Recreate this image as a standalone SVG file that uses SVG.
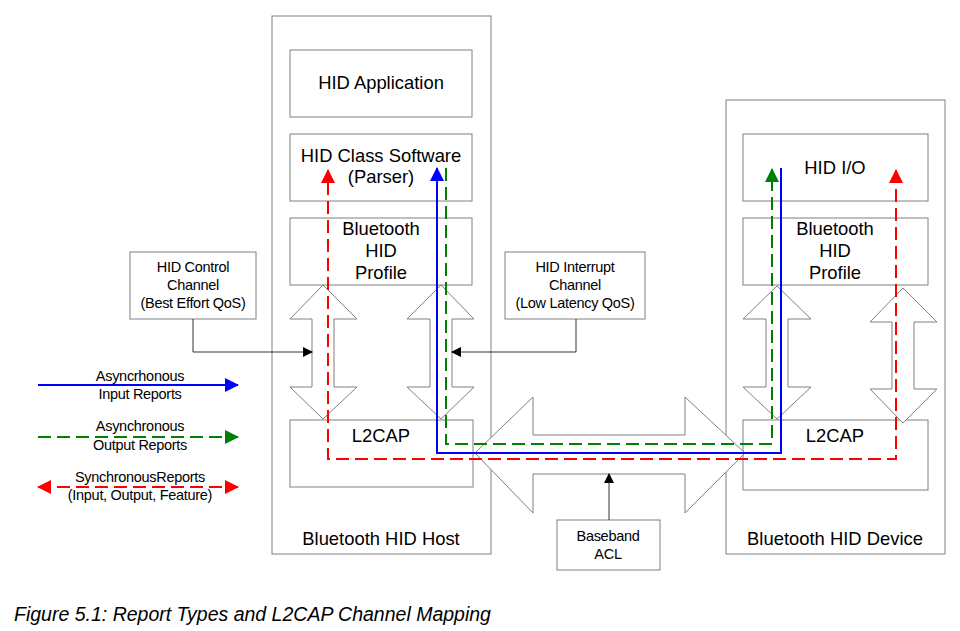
<svg xmlns="http://www.w3.org/2000/svg" width="960" height="631" viewBox="0 0 960 631">
<style>
.b{fill:#fff;stroke:#808080;stroke-width:1}
.t{font-family:"Liberation Sans",Arial,sans-serif;font-size:18.4px;fill:#000;text-anchor:middle}
.s{font-family:"Liberation Sans",Arial,sans-serif;font-size:14.5px;fill:#000;text-anchor:middle;letter-spacing:-0.3px}
.da{fill:#fff;stroke:#808080;stroke-width:1}
</style>
<defs>
<marker id="ab" markerWidth="10" markerHeight="10" refX="9" refY="5" orient="auto" markerUnits="userSpaceOnUse"><path d="M0,0L10,5L0,10z" fill="#000"/></marker>
<marker id="mb" markerWidth="14" markerHeight="14" refX="13" refY="7" orient="auto-start-reverse" markerUnits="userSpaceOnUse"><path d="M0,0L14,7L0,14z" fill="#0000ff"/></marker>
<marker id="mg" markerWidth="14" markerHeight="14" refX="13" refY="7" orient="auto-start-reverse" markerUnits="userSpaceOnUse"><path d="M0,0L14,7L0,14z" fill="#008000"/></marker>
<marker id="mr" markerWidth="14" markerHeight="14" refX="13" refY="7" orient="auto-start-reverse" markerUnits="userSpaceOnUse"><path d="M0,0L14,7L0,14z" fill="#ff0000"/></marker>
</defs>
<rect width="960" height="631" fill="#fff"/>
<g id="host"><rect class="b" x="272" y="16" width="219" height="538"/><text class="t" x="381" y="545">Bluetooth HID Host</text></g>
<g id="device"><rect class="b" x="726" y="100" width="219" height="454"/><text class="t" x="835" y="545">Bluetooth HID Device</text></g>
<g id="hidapp"><rect class="b" x="290" y="50" width="182" height="67"/><text class="t" x="381" y="89">HID Application</text></g>
<g id="hidclass"><rect class="b" x="290" y="134" width="182" height="67"/><text class="t" x="381" y="162">HID Class Software</text><text class="t" x="381" y="183">(Parser)</text></g>
<g id="hostprofile"><rect class="b" x="290" y="218" width="182" height="67"/><text class="t" x="381" y="235">Bluetooth</text><text class="t" x="381" y="257">HID</text><text class="t" x="381" y="279">Profile</text></g>
<g id="hostl2cap"><rect class="b" x="290" y="420" width="183" height="67"/><text class="t" x="381" y="442">L2CAP</text></g>
<g id="hidio"><rect class="b" x="743" y="134" width="185" height="67"/><text class="t" x="835" y="174">HID I/O</text></g>
<g id="devprofile"><rect class="b" x="743" y="218" width="185" height="67"/><text class="t" x="835" y="235">Bluetooth</text><text class="t" x="835" y="257">HID</text><text class="t" x="835" y="279">Profile</text></g>
<g id="devl2cap"><rect class="b" x="743" y="420" width="185" height="70"/><text class="t" x="835" y="442">L2CAP</text></g>
<g id="ctrl"><rect class="b" x="130" y="252" width="126" height="67"/><text class="s" x="193" y="272">HID Control</text><text class="s" x="193" y="290">Channel</text><text class="s" x="193" y="308">(Best Effort QoS)</text></g>
<g id="intr"><rect class="b" x="505" y="252" width="140" height="67"/><text class="s" x="575" y="272">HID Interrupt</text><text class="s" x="575" y="290">Channel</text><text class="s" x="575" y="308">(Low Latency QoS)</text></g>
<g id="baseband"><rect class="b" x="557" y="520" width="103" height="50"/><text class="s" x="608" y="541">Baseband</text><text class="s" x="608" y="559">ACL</text></g>
<g id="bigarrows">
<path class="da" d="M323,285L357,319L334,319L334,387L357,387L323,419L290,387L312,387L312,319L290,319Z"/>
<path class="da" d="M441,285L474,319L452,319L452,387L474,387L441,419L407,387L430,387L430,319L407,319Z"/>
<path class="da" d="M777,286L811,319L788,319L788,387L811,387L777,419L743,387L766,387L766,319L743,319Z"/>
<path class="da" d="M903,288L937,322L914,322L914,389L937,389L903,423L870,389L892,389L892,322L870,322Z"/>
<path class="da" d="M475,453L533,397L533,435L685,435L685,397L745,453L685,513L685,474L533,474L533,513Z"/>
</g>
<g id="connectors" fill="none">
<polyline points="193,319 193,352 312,352" stroke="#000" stroke-width="0.8" marker-end="url(#ab)"/>
<polyline points="576,319 576,352 452,352" stroke="#000" stroke-width="0.8" marker-end="url(#ab)"/>
<line x1="609" y1="520" x2="609" y2="474" stroke="#000" stroke-width="0.8" marker-end="url(#ab)"/>
<polyline points="896,170 896,459 328,459 328,170" stroke="#ff0000" stroke-width="2" stroke-dasharray="13,6" marker-end="url(#mr)" marker-start="url(#mr)"/>
<polyline points="781,168 781,453 437,453 437,168" stroke="#0000ff" stroke-width="2" marker-end="url(#mb)"/>
<polyline points="446,168 446,444 772,444 772,169" stroke="#008000" stroke-width="2" stroke-dasharray="13,6" marker-end="url(#mg)"/>
</g>
<g id="legend">
<line x1="38" y1="385" x2="238" y2="385" stroke="#0000ff" stroke-width="2" marker-end="url(#mb)"/>
<text class="s" x="140" y="381">Asyncrhonous</text><text class="s" x="140" y="399">Input Reports</text>
<line x1="38" y1="437" x2="238" y2="437" stroke="#008000" stroke-width="2" stroke-dasharray="13,6" marker-end="url(#mg)"/>
<text class="s" x="140" y="431">Asynchronous</text><text class="s" x="140" y="450">Output Reports</text>
<line x1="38" y1="487" x2="238" y2="487" stroke="#ff0000" stroke-width="2" stroke-dasharray="13,6" marker-start="url(#mr)" marker-end="url(#mr)"/>
<text class="s" x="140" y="482">SynchronousReports</text><text class="s" x="140" y="500">(Input, Output, Feature)</text>
</g>
<text x="14" y="621" font-family="Liberation Sans,Arial,sans-serif" font-size="19.5" font-style="italic">Figure 5.1: Report Types and L2CAP Channel Mapping</text>
</svg>
